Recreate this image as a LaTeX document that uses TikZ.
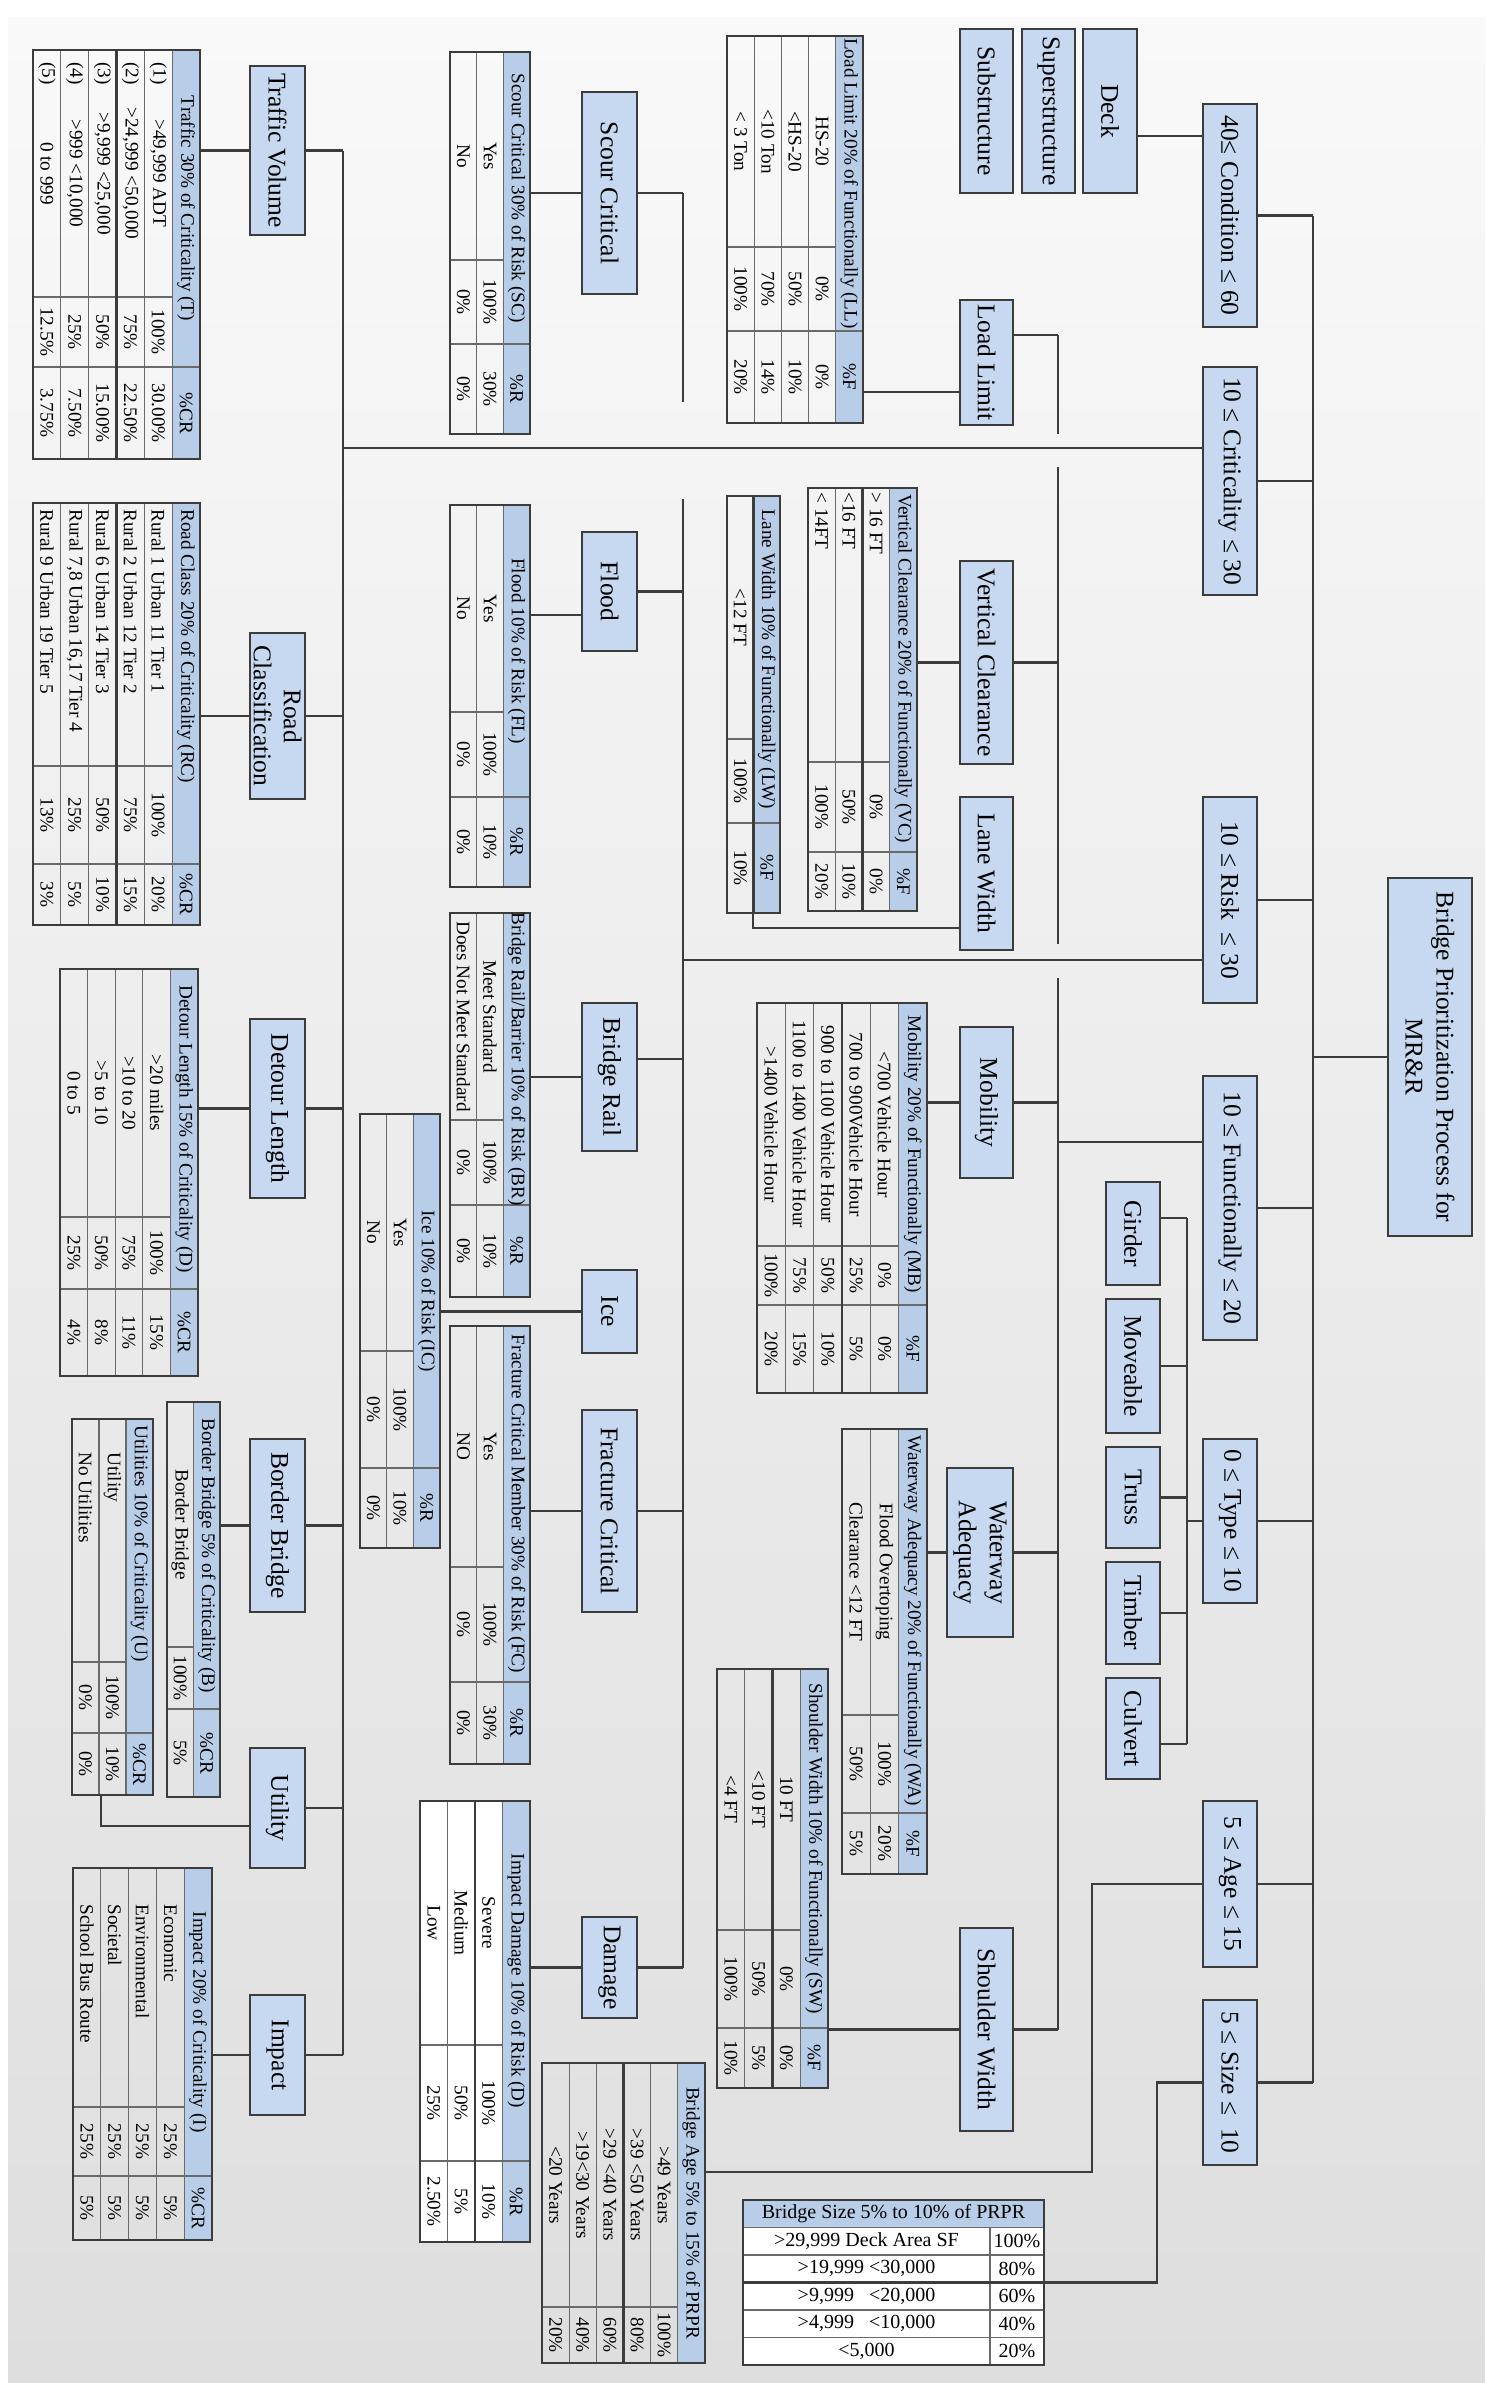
\documentclass[tikz,border=0pt]{standalone}
\usepackage{fontspec}
\setmainfont{Liberation Serif}

\definecolor{boxblue}{HTML}{C6D9F0}
\definecolor{headblue}{HTML}{B8CEE8}
\definecolor{edgegray}{HTML}{3C3C3C}
\definecolor{rulegray}{HTML}{6A6A6A}
\definecolor{bgdark}{HTML}{DEDEDE}
\definecolor{bglight}{HTML}{F9F9F9}

\tikzset{
  box/.style={draw=edgegray, fill=boxblue, line width=1.1pt, inner sep=1pt, align=center, font=\fontsize{12.75}{15.5}\selectfont},
  boxtwo/.style={box, minimum height=27pt},
  wire/.style={draw=edgegray, line width=1.4pt},
  tcell/.style={inner sep=0pt, font=\fontsize{9.6}{11.5}\selectfont},
  tabline/.style={draw=rulegray, line width=0.6pt},
  boldrule/.style={draw=edgegray, line width=1.2pt},
  tabframe/.style={draw=edgegray, line width=1.1pt, inner sep=0pt},
}

\newcommand{\gridtab}[9]{%
  \def\tN{#1}\def\tA{#2}\def\tB{#3}\def\tC{#4}\def\tD{#5}\def\tT{#6}%
  \pgfmathsetmacro{\rh}{((#6)-(#7))/(#8+1)}%
  \fill[headblue] (#2,#6) rectangle (#5,{#6-\rh});
  \foreach \rr in {1,...,#8} {\draw[tabline] (#2,{#6-\rr*\rh}) -- (#5,{#6-\rr*\rh});}
  \draw[tabline] (#3,{#6-\rh}) -- (#3,#7);
  \draw[tabline] (#4,#6) -- (#4,#7);
  \ifnum#9>0 \draw[boldrule] (#2,{#6-#9*\rh}) -- (#5,{#6-#9*\rh});\fi
  \node[tabframe, minimum width={((#5)-(#2))*0.5pt}, minimum height={((#6)-(#7))*0.5pt}] (#1) at ({((#2)+(#5))/2},{((#6)+(#7))/2}) {};
}

\newcommand{\tabhead}[3][]{%
  \ifx\relax#1\relax
    \node[tcell] (\tN-h) at ({(\tA+\tC)/2},{\tT-0.5*\rh}) {#2};
  \else
    \node[tcell, anchor=west] (\tN-h) at ({\tA+#1},{\tT-0.5*\rh}) {#2};
  \fi
  \node[tcell] (\tN-p) at ({(\tC+\tD)/2},{\tT-0.5*\rh}) {#3};
}

\newcommand{\tabrow}[5][]{%
  \pgfmathsetmacro{\ry}{\tT-(#2+0.5)*\rh}%
  \ifx\relax#1\relax
    \node[tcell] (\tN-#2a) at ({(\tA+\tB)/2},\ry) {#3};
  \else
    \node[tcell, anchor=west] (\tN-#2a) at ({\tA+#1},\ry) {#3};
  \fi
  \node[tcell] (\tN-#2b) at ({(\tB+\tC)/2},\ry) {#4};
  \node[tcell] (\tN-#2c) at ({(\tC+\tD)/2},\ry) {#5};
}

\begin{document}
\begin{tikzpicture}[x=0.5pt, y=0.5pt, rotate=-90, transform shape]
\useasboundingbox (0,0) rectangle (2383,1485);
\fill[white] (0,0) rectangle (2383,1485);
\shade[bottom color=bgdark, top color=bglight] (17,8) rectangle (2383,1485);

\coordinate (mainbus) at (0,1313);
\coordinate (critbus) at (0,343);
\coordinate (riskbus) at (0,683);
\coordinate (funcbus) at (0,1058);
\coordinate (typebus) at (0,1187);

\node[box, minimum width=179pt, minimum height=42pt] (root) at (1057,1430) {Bridge Prioritization Process for\\MR\&R};

\node[boxtwo, minimum width=111.5pt] (cond) at (215.5,1230) {40≤ Condition ≤ 60};
\node[boxtwo, minimum width=114pt] (crit) at (481,1230) {10 ≤ Criticality ≤ 30};
\node[boxtwo, minimum width=103pt] (risk) at (900,1230) {10 ≤ Risk \ ≤ 30};
\node[boxtwo, minimum width=132pt] (func) at (1208,1230) {10 ≤ Functionally ≤ 20};
\node[boxtwo, minimum width=82pt] (type) at (1521,1230) {0 ≤ Type ≤ 10};
\node[boxtwo, minimum width=83pt] (age) at (1884,1230) {5 ≤ Age ≤ 15};
\node[boxtwo, minimum width=82.5pt] (size) at (2082.5,1230) {5 ≤ Size ≤ \ 10};

\node[box, minimum width=82pt, minimum height=27pt] (deck) at (111,1110) {Deck};
\node[box, minimum width=82pt, minimum height=26.5pt] (super) at (111,1048.5) {Superstructure};
\node[box, minimum width=82pt, minimum height=26.5pt] (sub) at (111,986.5) {Substructure};

\node[box, minimum width=51.5pt, minimum height=27pt] (gi) at (1233.5,1133) {Girder};
\node[box, minimum width=67pt, minimum height=27pt] (mv) at (1366,1133) {Moveable};
\node[box, minimum width=50.5pt, minimum height=27pt] (tr) at (1497.5,1133) {Truss};
\node[box, minimum width=51pt, minimum height=27pt] (ti) at (1613,1133) {Timber};
\node[box, minimum width=50.5pt, minimum height=27pt] (cu) at (1728.5,1133) {Culvert};

\node[box, minimum width=62.5pt, minimum height=26.5pt] (ll) at (362.5,986.5) {Load Limit};
\node[box, minimum width=101.5pt, minimum height=26.5pt] (vc) at (662.5,986.5) {Vertical Clearance};
\node[box, minimum width=76.5pt, minimum height=26.5pt] (lw) at (873.5,986.5) {Lane Width};
\node[box, minimum width=75.5pt, minimum height=26.5pt] (mb) at (1102.5,986.5) {Mobility};
\node[box, minimum width=84.5pt, minimum height=33pt] (wa) at (1552.5,980) {Waterway\\Adequacy};
\node[box, minimum width=101.5pt, minimum height=26.5pt] (sw) at (2029.5,986.5) {Shoulder Width};

\node[box, minimum width=101pt, minimum height=27.5pt] (sc) at (193,609.5) {Scour Critical};
\node[box, minimum width=59.5pt, minimum height=27.5pt] (fl) at (591.5,609.5) {Flood};
\node[box, minimum width=74pt, minimum height=27.5pt] (br) at (1077,609.5) {Bridge Rail};
\node[box, minimum width=41.5pt, minimum height=27.5pt] (ic) at (1311.5,609.5) {Ice};
\node[box, minimum width=101pt, minimum height=27.5pt] (fc) at (1511,609.5) {Fracture Critical};
\node[box, minimum width=50.5pt, minimum height=27.5pt] (dm) at (1967.5,609.5) {Damage};

\node[box, minimum width=84.5pt, minimum height=27.5pt] (tv) at (150.5,277.5) {Traffic Volume};
\node[box, minimum width=83pt, minimum height=27.5pt, inner ysep=0pt, font=\fontsize{12.75}{15}\selectfont] (rc) at (716,277.5) {Road\\Classification};
\node[box, minimum width=89.5pt, minimum height=27.5pt] (dl) at (1108.5,277.5) {Detour Length};
\node[box, minimum width=86.5pt, minimum height=27.5pt] (bb) at (1525.5,277.5) {Border Bridge};
\node[box, minimum width=60pt, minimum height=27.5pt] (ut) at (1808,277.5) {Utility};
\node[box, minimum width=60pt, minimum height=27.5pt] (im) at (2055,277.5) {Impact};

\gridtab{tT}{50}{297}{367}{459}{200}{33}{5}{3}
\tabhead{Traffic 30\% of Criticality (T)}{\%CR}
\tabrow{1}{>49,999 ADT}{100\%}{30.00\%}
\tabrow{2}{>24,999 <50,000}{75\%}{22.50\%}
\tabrow{3}{>9,999 <25,000}{50\%}{15.00\%}
\tabrow{4}{>999 <10,000}{25\%}{7.50\%}
\tabrow{5}{0 to 999}{12.5\%}{3.75\%}
\foreach \i in {1,...,5} \node[tcell, anchor=west] (tT-n\i) at (62,{\tT-(\i+0.5)*\rh}) {(\i)};

\gridtab{tRC}{503}{766}{864}{925}{200}{33}{5}{3}
\tabhead[6]{Road Class 20\% of Criticality (RC)}{\%CR}
\tabrow[6]{1}{Rural 1 Urban 11 Tier 1}{100\%}{20\%}
\tabrow[6]{2}{Rural 2 Urban 12 Tier 2}{75\%}{15\%}
\tabrow[6]{3}{Rural 6 Urban 14 Tier 3}{50\%}{10\%}
\tabrow[6]{4}{Rural 7,8 Urban 16,17 Tier 4}{25\%}{5\%}
\tabrow[6]{5}{Rural 9 Urban 19 Tier 5}{13\%}{3\%}

\gridtab{tD}{969}{1217}{1289}{1376}{198}{60}{4}{0}
\tabhead{Detour Length 15\% of Criticality (D)}{\%CR}
\tabrow{1}{>20 miles}{100\%}{15\%}
\tabrow{2}{>10 to 20}{75\%}{11\%}
\tabrow{3}{>5 to 10}{50\%}{8\%}
\tabrow{4}{0 to 5}{25\%}{4\%}

\gridtab{tB}{1402}{1647}{1709}{1797}{220}{167}{1}{0}
\tabhead{Border Bridge 5\% of Criticality (B)}{\%CR}
\tabrow{1}{Border Bridge}{100\%}{5\%}

\gridtab{tU}{1419}{1662}{1733}{1795}{153}{72}{2}{0}
\tabhead[6]{Utilities 10\% of Criticality (U)}{\%CR}
\tabrow[33]{1}{Utility}{100\%}{10\%}
\tabrow[33]{2}{No Utilities}{0\%}{0\%}

\gridtab{tI}{1868}{2107}{2176}{2240}{212}{73}{4}{0}
\tabhead{Impact 20\% of Criticality (I)}{\%CR}
\tabrow[36]{1}{Economic}{25\%}{5\%}
\tabrow[36]{2}{Environmental}{25\%}{5\%}
\tabrow[36]{3}{Societal}{25\%}{5\%}
\tabrow[36]{4}{School Bus Route}{25\%}{5\%}

\gridtab{tSC}{52}{260}{344}{434}{530}{450}{2}{0}
\tabhead{Scour Critical 30\% of Risk (SC)}{\%R}
\tabrow{1}{Yes}{100\%}{30\%}
\tabrow{2}{No}{0\%}{0\%}

\gridtab{tFL}{505}{712}{797}{887}{530}{450}{2}{0}
\tabhead{Flood 10\% of Risk (FL)}{\%R}
\tabrow{1}{Yes}{100\%}{10\%}
\tabrow{2}{No}{0\%}{0\%}

\gridtab{tBR}{913}{1120}{1205}{1297}{530}{450}{2}{0}
\tabhead{Bridge Rail/Barrier 10\% of Risk (BR)}{\%R}
\tabrow{1}{Meet Standard}{100\%}{10\%}
\tabrow{2}{Does Not Meet Standard}{0\%}{0\%}

\gridtab{tIC}{1114}{1351}{1468}{1548}{440}{360}{2}{0}
\tabhead{Ice 10\% of Risk (IC)}{\%R}
\tabrow{1}{Yes}{100\%}{10\%}
\tabrow{2}{No}{0\%}{0\%}

\gridtab{tFC}{1326}{1567}{1682}{1764}{530}{450}{2}{0}
\tabhead{Fracture Critical Member 30\% of Risk (FC)}{\%R}
\tabrow{1}{Yes}{100\%}{30\%}
\tabrow{2}{NO}{0\%}{0\%}

\fill[white] (1801,530) rectangle (2242,420);
\gridtab{tDM}{1801}{2045}{2161}{2242}{530}{420}{3}{2}
\tabhead{Impact Damage 10\% of Risk (D)}{\%R}
\tabrow{1}{Severe}{100\%}{10\%}
\tabrow{2}{Medium}{50\%}{5\%}
\tabrow{3}{Low}{25\%}{2.50\%}

\gridtab{tLL}{36}{247}{331}{423}{863}{727}{4}{0}
\tabhead{Load Limit 20\% of Functionally (LL)}{\%F}
\tabrow{1}{HS-20}{0\%}{0\%}
\tabrow{2}{<HS-20}{50\%}{10\%}
\tabrow{3}{<10 Ton}{70\%}{14\%}
\tabrow{4}{< 3 Ton}{100\%}{20\%}

\gridtab{tVC}{488}{762}{852}{911}{917}{808}{3}{2}
\tabhead[6]{Vertical Clearance 20\% of Functionally (VC)}{\%F}
\tabrow[4]{1}{> 16 FT}{0\%}{0\%}
\tabrow[4]{2}{<16 FT}{50\%}{10\%}
\tabrow[4]{3}{< 14FT}{100\%}{20\%}

\gridtab{tLW}{496}{739}{823}{913}{780}{727}{1}{1}
\tabhead{Lane Width 10\% of Functionally (LW)}{\%F}
\tabrow{1}{<12 FT}{100\%}{10\%}

\gridtab{tMB}{1003}{1246}{1305}{1393}{927}{757}{5}{3}
\tabhead{Mobility 20\% of Functionally (MB)}{\%F}
\tabrow{1}{<700 Vehicle Hour}{0\%}{0\%}
\tabrow{2}{700 to 900Vehicle Hour}{25\%}{5\%}
\tabrow{3}{900 to 1100 Vehicle Hour}{50\%}{10\%}
\tabrow{4}{1100 to 1400 Vehicle Hour}{75\%}{15\%}
\tabrow{5}{>1400 Vehicle Hour}{100\%}{20\%}

\gridtab{tWA}{1429}{1715}{1813}{1874}{927}{842}{2}{0}
\tabhead{Waterway Adequacy 20\% of Functionally (WA)}{\%F}
\tabrow{1}{Flood Overtoping}{100\%}{20\%}
\tabrow{2}{Clearance <12 FT}{50\%}{5\%}

\gridtab{tSW}{1669}{1930}{2028}{2088}{828}{717}{3}{2}
\tabhead{Shoulder Width 10\% of Functionally (SW)}{\%F}
\tabrow{1}{10 FT}{0\%}{0\%}
\tabrow{2}{<10 FT}{50\%}{5\%}
\tabrow{3}{<4 FT}{100\%}{10\%}

\gridtab{tAge}{2063}{2307}{2363}{2363}{705}{542}{5}{3}
\tabhead{Bridge Age 5\% to 15\% of PRPR}{}
\tabrow{1}{>49 Years}{100\%}{}
\tabrow{2}{>39 <50 Years}{80\%}{}
\tabrow{3}{>29 <40 Years}{60\%}{}
\tabrow{4}{>19<30 Years}{40\%}{}
\tabrow{5}{<20 Years}{20\%}{}

\begin{scope}[rotate=90, tcell/.append style={font=\fontsize{10}{12}\selectfont}]
\fill[white] (743,-2200) rectangle (1044,-2365);
\gridtab{tSize}{743}{990}{1044}{1044}{-2200}{-2365}{5}{3}
\tabhead{Bridge Size 5\% to 10\% of PRPR}{}
\tabrow{1}{>29,999 Deck Area SF}{100\%}{}
\tabrow{2}{>19,999 <30,000}{80\%}{}
\tabrow{3}{>9,999 \ \ <20,000}{60\%}{}
\tabrow{4}{>4,999 \ \ <10,000}{40\%}{}
\tabrow{5}{<5,000}{20\%}{}
\end{scope}

\draw[wire] (cond.north |- mainbus) -- (size.north |- mainbus);
\draw[wire] (root.south) -- (root.south |- mainbus);
\foreach \n in {cond,crit,risk,func,type,age,size} \draw[wire] (\n.north) -- (\n.north |- mainbus);
\draw[wire] (136,0 |- deck.north) -- (136,0 |- cond.south);

\draw[wire] (448,0 |- crit.south) -- (448,0 |- critbus);
\draw[wire] (tv.north |- critbus) -- (im.north |- critbus);
\foreach \n in {tv,rc,dl,bb,ut,im} \draw[wire] (\n.north) -- (\n.north |- critbus);
\foreach \n/\tb in {tv/tT,rc/tRC,dl/tD,bb/tB,im/tI} \draw[wire] (\n.south) -- (\n.south |- \tb.north);
\draw[wire] (1826,0 |- ut.south) -- (1826,101) -- (tU.east |- 0,101);

\draw[wire] (960,0 |- risk.south) -- (960,0 |- riskbus);
\draw[wire] (sc.north |- riskbus) -- (402,0 |- riskbus);
\draw[wire] (499,0 |- riskbus) -- (dm.north |- riskbus);
\foreach \n in {sc,fl,fc,dm} \draw[wire] (\n.north) -- (\n.north |- riskbus);
\draw[wire] (1059,0 |- br.north) -- (1059,0 |- riskbus);
\foreach \n/\tb in {sc/tSC,br/tBR,fc/tFC,dm/tDM,ic/tIC} \draw[wire] (\n.south) -- (\n.south |- \tb.north);
\draw[wire] (615,0 |- fl.south) -- (615,0 |- tFL.north);

\draw[wire] (1142,0 |- func.south) -- (1142,0 |- funcbus);
\draw[wire] (335,0 |- funcbus) -- (434,0 |- funcbus);
\draw[wire] (467,0 |- funcbus) -- (944,0 |- funcbus);
\draw[wire] (978,0 |- funcbus) -- (sw.north |- funcbus);
\foreach \n in {vc,mb,wa,sw} \draw[wire] (\n.north) -- (\n.north |- funcbus);
\draw[wire] (335,0 |- ll.north) -- (335,0 |- funcbus);
\foreach \n/\tb in {vc/tVC,mb/tMB,wa/tWA,sw/tSW} \draw[wire] (\n.south) -- (\n.south |- \tb.north);
\draw[wire] (392,0 |- ll.south) -- (392,0 |- tLL.north);
\draw[wire] (928,0 |- lw.south) -- (928,753) -- (tLW.east |- 0,753);

\draw[wire] (type.south) -- (type.south |- typebus);
\draw[wire] (1218,0 |- typebus) -- (1744,0 |- typebus);
\foreach \n in {mv,tr,ti} \draw[wire] (\n.north) -- (\n.north |- typebus);
\draw[wire] (1218,0 |- gi.north) -- (1218,0 |- typebus);
\draw[wire] (1744,0 |- cu.north) -- (1744,0 |- typebus);

\draw[wire] (age.south) -- (age.south |- 0,1092) -- (2172,1092) -- (2172,0 |- tAge.north);
\draw[wire] (size.south) -- (size.south |- 0,1157) -- (tSize.east |- 0,1157) -- (tSize.east);
\end{tikzpicture}
\end{document}
